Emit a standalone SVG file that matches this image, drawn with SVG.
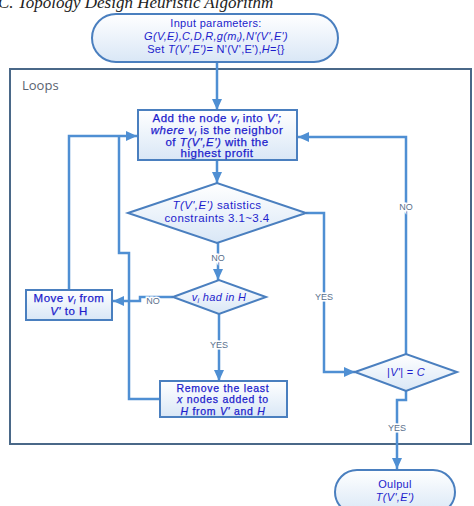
<svg xmlns="http://www.w3.org/2000/svg" width="474" height="506" viewBox="0 0 474 506">
<defs>
<linearGradient id="fillg" x1="0" y1="0" x2="0" y2="1">
<stop offset="0" stop-color="#ffffff"/>
<stop offset="1" stop-color="#d9e7f6"/>
</linearGradient>
<marker id="arr" markerUnits="userSpaceOnUse" markerWidth="11" markerHeight="10" refX="11" refY="5" orient="auto">
<path d="M0,0 L11,5 L0,10 z" fill="#4f8fd3"/>
</marker>
<style>
.node{fill:url(#fillg);stroke:#4a7fbf;stroke-width:2}
.t{font-family:"Liberation Sans",Arial,sans-serif;font-size:11px;fill:#1d1dcc;text-anchor:middle;letter-spacing:0.3px}
.b{font-size:11.5px;letter-spacing:0.5px;stroke:#1d1dcc;stroke-width:0.25}
.r{font-size:10.5px;letter-spacing:0.7px;stroke:#1d1dcc;stroke-width:0.25}
.d{font-size:11.5px;letter-spacing:0.4px}
.i{font-style:italic}
.sub{font-size:7px}
.c{fill:none;stroke:#4f8fd3;stroke-width:2.5}
.lbl{font-family:"Liberation Sans",Arial,sans-serif;font-size:9px;fill:#5a6f8c;text-anchor:middle;stroke:#ffffff;stroke-width:3;paint-order:stroke}
</style>
</defs>
<rect width="474" height="506" fill="#ffffff"/>
<text x="-2" y="8" font-family="'Liberation Serif','Times New Roman',serif" font-style="italic" font-size="17" fill="#222">C. Topology Design Heuristic Algorithm</text>

<g id="loops">
<rect x="10" y="69" width="461" height="375" fill="none" stroke="#4a6888" stroke-width="2"/>
<text x="22" y="90" font-family="'Open Sans','Liberation Sans',sans-serif" font-size="13" fill="#5a6270">Loops</text>
</g>

<g id="connectors">
<path class="c" d="M217,62 V110" marker-end="url(#arr)"/>
<path class="c" d="M217,160 V183" marker-end="url(#arr)"/>
<path class="c" d="M218,243 V280" marker-end="url(#arr)"/>
<path class="c" d="M219,314 V381" marker-end="url(#arr)"/>
<path class="c" d="M173,297 H140 V301 H113" marker-end="url(#arr)"/>
<path class="c" d="M69,290 V136 H137" marker-end="url(#arr)"/>
<path class="c" d="M160,399 H129 V253 H119 V136"/>
<path class="c" d="M306,213 H324 V372 H355" marker-end="url(#arr)"/>
<path class="c" d="M406,354 V137 H298" marker-end="url(#arr)"/>
<path class="c" d="M406,391 V400 H397 V469" marker-end="url(#arr)"/>
<text class="lbl" x="218" y="261">NO</text>
<text class="lbl" x="219" y="348">YES</text>
<text class="lbl" x="153" y="304">NO</text>
<text class="lbl" x="324" y="300">YES</text>
<text class="lbl" x="406" y="210">NO</text>
<text class="lbl" x="397" y="431">YES</text>
</g>

<g id="start">
<rect class="node" x="92" y="14" width="246" height="48" rx="24" ry="24"/>
<text class="t" x="216" y="27">Input parameters:</text>
<text class="t i" x="216" y="40">G(V,E),C,D,R,g(m<tspan class="sub" dy="2">i</tspan><tspan dy="-2">),N'(V',E')</tspan></text>
<text class="t" x="216" y="53">Set <tspan class="i">T(V',E')</tspan>= N'(V',E'),<tspan class="i">H</tspan>={}</text>
</g>

<g id="add">
<rect class="node" x="138" y="110" width="159" height="50"/>
<text class="t b" x="217" y="122">Add the node <tspan class="i">v</tspan><tspan class="sub i" dy="2">i</tspan><tspan dy="-2"> into </tspan><tspan class="i">V';</tspan></text>
<text class="t b" x="217" y="134"><tspan class="i">where v</tspan><tspan class="sub i" dy="2">i</tspan><tspan dy="-2"> is the neighbor</tspan></text>
<text class="t b" x="217" y="146">of <tspan class="i">T(V',E')</tspan> with the</text>
<text class="t b" x="217" y="157">highest profit</text>
</g>

<g id="check">
<polygon class="node" points="128,213 217,183 306,213 217,243"/>
<text class="t d" x="217" y="209"><tspan class="i">T(V',E')</tspan> satistics</text>
<text class="t d" x="217" y="222">constraints 3.1~3.4</text>
</g>

<g id="hadinh">
<polygon class="node" points="173,297 219,280 266,297 219,314"/>
<text class="t i" x="219" y="301">v<tspan class="sub" dy="2">i</tspan><tspan dy="-2"> had in H</tspan></text>
</g>

<g id="move">
<rect class="node" x="26" y="290" width="86" height="30"/>
<text class="t b" x="69" y="302">Move <tspan class="i">v</tspan><tspan class="sub i" dy="2">i</tspan><tspan dy="-2"> from</tspan></text>
<text class="t b" x="69" y="315"><tspan class="i">V'</tspan> to H</text>
</g>

<g id="remove">
<rect class="node" x="160" y="381" width="127" height="36"/>
<text class="t r" x="223" y="391.5">Remove the least</text>
<text class="t r" x="223" y="403"><tspan class="i">x</tspan> nodes added to</text>
<text class="t r" x="223" y="414.5"><tspan class="i">H</tspan> from <tspan class="i">V'</tspan> and <tspan class="i">H</tspan></text>
</g>

<g id="size">
<polygon class="node" points="355,372 406,354 457,372 406,391"/>
<text class="t" x="406" y="376">|<tspan class="i">V'</tspan>| = <tspan class="i">C</tspan></text>
</g>

<g id="output">
<rect class="node" x="335" y="470" width="120" height="44" rx="22" ry="22"/>
<text class="t" x="395" y="488">Oulpul</text>
<text class="t i" x="395" y="501">T(V',E')</text>
</g>
</svg>
